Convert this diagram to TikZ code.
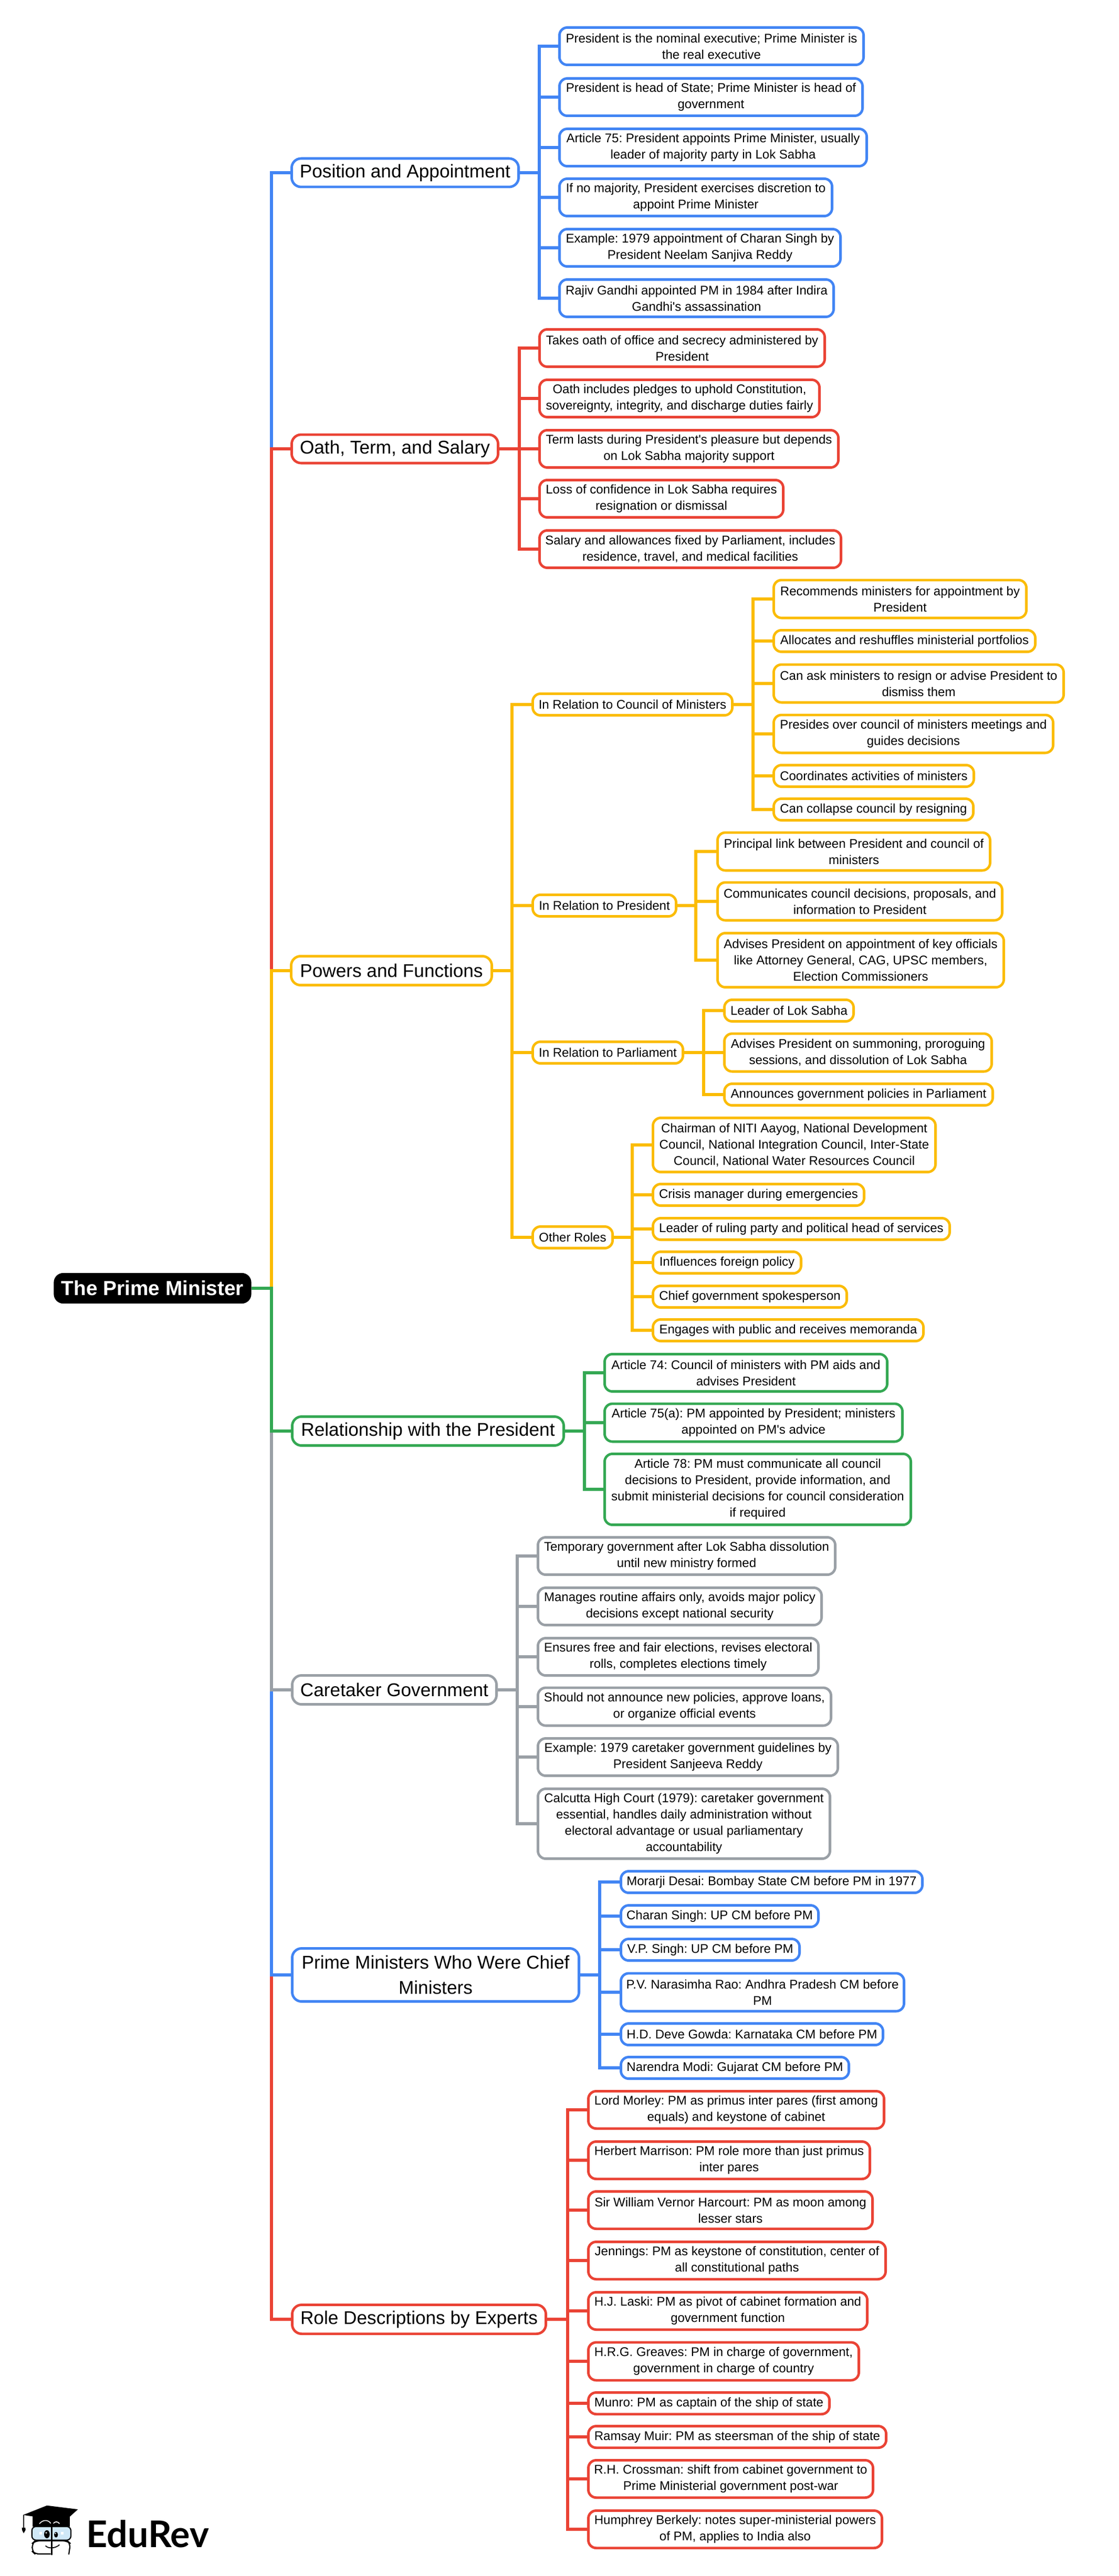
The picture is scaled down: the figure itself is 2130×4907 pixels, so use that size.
\documentclass[tikz,border=0pt]{standalone}
\usepackage{fontspec}
\newfontfamily\labelfont{Liberation Sans}
\newfontfamily\logofont{Lato}
\definecolor{gblue}{HTML}{4285F4}
\definecolor{gred}{HTML}{EA4335}
\definecolor{gyellow}{HTML}{FBBC04}
\definecolor{ggreen}{HTML}{34A853}
\definecolor{ggray}{HTML}{9AA0A6}
\definecolor{lens}{HTML}{CFE8F7}
\frenchspacing
\tikzset{
  base/.style={rounded corners=7.5pt,fill=white,line width=2.4pt,inner sep=0pt,align=center,text=black},
  leaf/.style={base,draw=#1,font=\labelfont\frenchspacing\fontsize{12}{15.5}\selectfont},
  mid/.style={base,draw=#1,font=\labelfont\frenchspacing\fontsize{12}{15.5}\selectfont},
  top/.style={base,rounded corners=9pt,draw=#1,font=\labelfont\frenchspacing\fontsize{17.6}{24}\selectfont},
  rootbox/.style={rounded corners=9pt,fill=black,inner sep=0pt,align=center,text=white,font=\labelfont\bfseries\fontsize{19.4}{24}\selectfont},
  conn/.style={line width=3pt,draw=#1,line join=miter}
}
% name, style, left, right, centre y, height, text
\newcommand{\mmbox}[7]{%
  \pgfmathsetmacro\mmw{(#4-#3-4.8)*.5}%
  \pgfmathsetmacro\mmh{(#6-4.8)*.5}%
  \pgfmathsetmacro\mmx{(#3+#4)/2}%
  \node[#2,minimum width=\mmw pt,minimum height=\mmh pt] (#1) at (\mmx,#5) {#7};}
% colour, parent, spine coordinate, children
\newcommand{\mmlink}[4]{%
  \foreach \ch in {#4} {%
    \draw[conn=#1] (#2.east) -- (#3 |- #2.east) -- (#3 |- \ch.west) -- (\ch.west);}}
\begin{document}
\begin{tikzpicture}[x=0.5pt,y=-0.5pt]
\path[use as bounding box,fill=white] (0,0) rectangle (2130,4907);
% spines
\coordinate (spRoot) at (517,0);
\coordinate (spA) at (1027,0);
\coordinate (spB) at (989,0);
\coordinate (spP) at (975,0);
\coordinate (spC) at (1434,0);
\coordinate (spD) at (1325,0);
\coordinate (spE) at (1340,0);
\coordinate (spF) at (1204,0);
\coordinate (spG) at (1113,0);
\coordinate (spH) at (985,0);
\coordinate (spI) at (1142,0);
\coordinate (spJ) at (1081,0);
% root
\mmbox{root}{rootbox,minimum width=190pt}{100}{481}{2454}{63}{The Prime Minister}
% level one
\mmbox{pos}{top=gblue}{553}{990}{329}{59}{Position and Appointment}
\mmbox{oath}{top=gred}{553}{951}{855}{59}{Oath, Term, and Salary}
\mmbox{pow}{top=gyellow}{552}{939}{1849}{60}{Powers and Functions}
\mmbox{rel}{top=ggreen}{554}{1076}{2726}{60}{Relationship with the President}
\mmbox{care}{top=ggray}{554}{948}{3219}{60}{Caretaker Government}
\mmbox{cms}{top=gblue}{554}{1105}{3762}{106}{Prime Ministers Who Were Chief\\Ministers}
\mmbox{role}{top=gred}{554}{1042}{4418}{60}{Role Descriptions by Experts}
% Position and Appointment
\mmbox{a1}{leaf=gblue}{1063}{1647}{88}{76}{President is the nominal executive; Prime Minister is\\the real executive}
\mmbox{a2}{leaf=gblue}{1063}{1645}{185}{76}{President is head of State; Prime Minister is head of\\government}
\mmbox{a3}{leaf=gblue}{1063}{1653}{281}{76}{Article 75: President appoints Prime Minister, usually\\leader of majority party in Lok Sabha}
\mmbox{a4}{leaf=gblue}{1063}{1587}{376}{76}{If no majority, President exercises discretion to\\appoint Prime Minister}
\mmbox{a5}{leaf=gblue}{1063}{1603}{472}{76}{Example: 1979 appointment of Charan Singh by\\President Neelam Sanjiva Reddy}
\mmbox{a6}{leaf=gblue}{1063}{1590}{568}{76}{Rajiv Gandhi appointed PM in 1984 after Indira\\Gandhi's assassination}
% Oath
\mmbox{b1}{leaf=gred}{1025}{1573}{663}{76}{Takes oath of office and secrecy administered by\\President}
\mmbox{b2}{leaf=gred}{1025}{1563}{759}{76}{Oath includes pledges to uphold Constitution,\\sovereignty, integrity, and discharge duties fairly}
\mmbox{b3}{leaf=gred}{1025}{1599}{855}{76}{Term lasts during President's pleasure but depends\\on Lok Sabha majority support}
\mmbox{b4}{leaf=gred}{1025}{1494}{950}{76}{Loss of confidence in Lok Sabha requires\\resignation or dismissal}
\mmbox{b5}{leaf=gred}{1025}{1604}{1046}{76}{Salary and allowances fixed by Parliament, includes\\residence, travel, and medical facilities}
% Powers: middle level
\mmbox{mc}{mid=gyellow}{1012}{1397}{1342}{46}{In Relation to Council of Ministers}
\mmbox{md}{mid=gyellow}{1012}{1290}{1725}{46}{In Relation to President}
\mmbox{me}{mid=gyellow}{1012}{1303}{2005}{46}{In Relation to Parliament}
\mmbox{mf}{mid=gyellow}{1012}{1169}{2357}{46}{Other Roles}
\mmbox{c1}{leaf=gyellow}{1471}{1957}{1141}{77}{Recommends ministers for appointment by\\President}
\mmbox{c2}{leaf=gyellow}{1471}{1974}{1221}{46}{Allocates and reshuffles ministerial portfolios}
\mmbox{c3}{leaf=gyellow}{1471}{2028}{1302}{77}{Can ask ministers to resign or advise President to\\dismiss them}
\mmbox{c4}{leaf=gyellow}{1471}{2008}{1398}{77}{Presides over council of ministers meetings and\\guides decisions}
\mmbox{c5}{leaf=gyellow}{1471}{1857}{1478}{46}{Coordinates activities of ministers}
\mmbox{c6}{leaf=gyellow}{1471}{1856}{1542}{46}{Can collapse council by resigning}
\mmbox{d1}{leaf=gyellow}{1364}{1888}{1622}{77}{Principal link between President and council of\\ministers}
\mmbox{d2}{leaf=gyellow}{1364}{1911}{1717}{77}{Communicates council decisions, proposals, and\\information to President}
\mmbox{d3}{leaf=gyellow}{1364}{1914}{1829}{108}{Advises President on appointment of key officials\\like Attorney General, CAG, UPSC members,\\Election Commissioners}
\mmbox{e1}{leaf=gyellow}{1377}{1628}{1925}{46}{Leader of Lok Sabha}
\mmbox{e2}{leaf=gyellow}{1377}{1891}{2005}{77}{Advises President on summoning, proroguing\\sessions, and dissolution of Lok Sabha}
\mmbox{e3}{leaf=gyellow}{1377}{1893}{2085}{46}{Announces government policies in Parliament}
\mmbox{f1}{leaf=gyellow}{1241}{1784}{2181}{108}{Chairman of NITI Aayog, National Development\\Council, National Integration Council, Inter-State\\Council, National Water Resources Council}
\mmbox{f2}{leaf=gyellow}{1241}{1648}{2276}{46}{Crisis manager during emergencies}
\mmbox{f3}{leaf=gyellow}{1241}{1811}{2341}{46}{Leader of ruling party and political head of services}
\mmbox{f4}{leaf=gyellow}{1241}{1528}{2405}{46}{Influences foreign policy}
\mmbox{f5}{leaf=gyellow}{1241}{1615}{2470}{46}{Chief government spokesperson}
\mmbox{f6}{leaf=gyellow}{1241}{1761}{2534}{46}{Engages with public and receives memoranda}
% Relationship
\mmbox{g1}{leaf=ggreen}{1149}{1692}{2615}{76}{Article 74: Council of ministers with PM aids and\\advises President}
\mmbox{g2}{leaf=ggreen}{1149}{1721}{2710}{77}{Article 75(a): PM appointed by President; ministers\\appointed on PM's advice}
\mmbox{g3}{leaf=ggreen}{1149}{1737}{2837}{140}{Article 78: PM must communicate all council\\decisions to President, provide information, and\\submit ministerial decisions for council consideration\\if required}
% Caretaker
\mmbox{h1}{leaf=ggray}{1022}{1593}{2964}{76}{Temporary government after Lok Sabha dissolution\\until new ministry formed}
\mmbox{h2}{leaf=ggray}{1022}{1567}{3060}{76}{Manages routine affairs only, avoids major policy\\decisions except national security}
\mmbox{h3}{leaf=ggray}{1022}{1561}{3156}{76}{Ensures free and fair elections, revises electoral\\rolls, completes elections timely}
\mmbox{h4}{leaf=ggray}{1022}{1585}{3251}{77}{Should not announce new policies, approve loans,\\or organize official events}
\mmbox{h5}{leaf=ggray}{1022}{1598}{3347}{76}{Example: 1979 caretaker government guidelines by\\President Sanjeeva Reddy}
\mmbox{h6}{leaf=ggray}{1022}{1583}{3474}{138}{Calcutta High Court (1979): caretaker government\\essential, handles daily administration without\\electoral advantage or usual parliamentary\\accountability}
% Chief Ministers
\mmbox{i1}{leaf=gblue}{1180}{1759}{3585}{46}{Morarji Desai: Bombay State CM before PM in 1977}
\mmbox{i2}{leaf=gblue}{1180}{1561}{3650}{46}{Charan Singh: UP CM before PM}
\mmbox{i3}{leaf=gblue}{1180}{1525}{3714}{46}{V.P. Singh: UP CM before PM}
\mmbox{i4}{leaf=gblue}{1180}{1724}{3795}{77}{P.V. Narasimha Rao: Andhra Pradesh CM before\\PM}
\mmbox{i5}{leaf=gblue}{1180}{1684}{3875}{46}{H.D. Deve Gowda: Karnataka CM before PM}
\mmbox{i6}{leaf=gblue}{1180}{1619}{3939}{46}{Narendra Modi: Gujarat CM before PM}
% Experts
\mmbox{j1}{leaf=gred}{1118}{1686}{4019}{76}{Lord Morley: PM as primus inter pares (first among\\equals) and keystone of cabinet}
\mmbox{j2}{leaf=gred}{1118}{1659}{4115}{76}{Herbert Marrison: PM role more than just primus\\inter pares}
\mmbox{j3}{leaf=gred}{1118}{1664}{4210}{76}{Sir William Vernor Harcourt: PM as moon among\\lesser stars}
\mmbox{j4}{leaf=gred}{1118}{1689}{4306}{76}{Jennings: PM as keystone of constitution, center of\\all constitutional paths}
\mmbox{j5}{leaf=gred}{1118}{1654}{4402}{76}{H.J. Laski: PM as pivot of cabinet formation and\\government function}
\mmbox{j6}{leaf=gred}{1118}{1638}{4498}{77}{H.R.G. Greaves: PM in charge of government,\\government in charge of country}
\mmbox{j7}{leaf=gred}{1118}{1582}{4578}{46}{Munro: PM as captain of the ship of state}
\mmbox{j8}{leaf=gred}{1118}{1690}{4642}{46}{Ramsay Muir: PM as steersman of the ship of state}
\mmbox{j9}{leaf=gred}{1118}{1665}{4722}{76}{R.H. Crossman: shift from cabinet government to\\Prime Ministerial government post-war}
\mmbox{j10}{leaf=gred}{1118}{1682}{4818}{76}{Humphrey Berkely: notes super-ministerial powers\\of PM, applies to India also}
% connectors: the farthest branch first, so that each nearer colour lies on top
\mmlink{gblue}{root}{spRoot}{pos}
\mmlink{gred}{root}{spRoot}{oath}
\mmlink{gyellow}{root}{spRoot}{pow}
\mmlink{gred}{root}{spRoot}{role}
\mmlink{gblue}{root}{spRoot}{cms}
\mmlink{ggray}{root}{spRoot}{care}
\mmlink{ggreen}{root}{spRoot}{rel}
\mmlink{gblue}{pos}{spA}{a1,a2,a3,a4,a5,a6}
\mmlink{gred}{oath}{spB}{b1,b2,b3,b4,b5}
\mmlink{gyellow}{pow}{spP}{mc,md,me,mf}
\mmlink{gyellow}{mc}{spC}{c1,c2,c3,c4,c5,c6}
\mmlink{gyellow}{md}{spD}{d1,d2,d3}
\mmlink{gyellow}{me}{spE}{e1,e2,e3}
\mmlink{gyellow}{mf}{spF}{f1,f2,f3,f4,f5,f6}
\mmlink{ggreen}{rel}{spG}{g1,g2,g3}
\mmlink{ggray}{care}{spH}{h1,h2,h3,h4,h5,h6}
\mmlink{gblue}{cms}{spI}{i1,i2,i3,i4,i5,i6}
\mmlink{gred}{role}{spJ}{j1,j2,j3,j4,j5,j6,j7,j8,j9,j10}
% logo
\begin{scope}[shift={(30,4760)},x=0.1667pt,y=-0.1667pt]
  \fill[black] (97,100) -- (310,100) -- (310,160) -- (97,160) -- cycle;
  \fill[black] (42,92) -- (178,38) -- (355,60) -- (275,132) -- (205,116) -- (95,100) -- cycle;
  \draw[black,line width=1pt] (45,92) -- (45,165);
  \fill[black] (35,165) -- (55,165) -- (56,178) -- (45,197) -- (36,178) -- cycle;
  \draw[white,line width=0.8pt] (135,142) .. controls (155,118) and (185,118) .. (200,140);
  \draw[white,line width=0.8pt] (215,140) .. controls (225,128) and (240,128) .. (250,142);
  \draw[black,line width=1.1pt,fill=lens,rounded corners=4pt] (92,158) rectangle (315,236);
  \draw[black,line width=1.1pt,rounded corners=4pt] (200,240) -- (110,240) -- (94,255) -- (94,300) -- (110,315) -- (200,315);
  \draw[black,line width=1.1pt,rounded corners=4pt] (210,240) -- (295,240) -- (312,255) -- (303,318);
  \draw[black,line width=1.5pt] (204,155) -- (204,320);
  \fill[black] (178,202) ellipse [x radius=16,y radius=23];
  \fill[black] (230,205) ellipse [x radius=11,y radius=16];
  \fill[white] (174,194) circle [radius=5];
  \fill[white] (227,198) circle [radius=4];
  \fill[white] (136,190) rectangle (150,204);
  \fill[white] (258,190) rectangle (272,204);
  \draw[black,line width=0.9pt] (170,268) .. controls (185,285) and (225,285) .. (250,262);
\end{scope}
\node[anchor=base west,inner sep=0pt,font=\logofont\bfseries\fontsize{35}{35}\selectfont] (brand) at (164,4852) {EduRev};
\end{tikzpicture}
\end{document}
